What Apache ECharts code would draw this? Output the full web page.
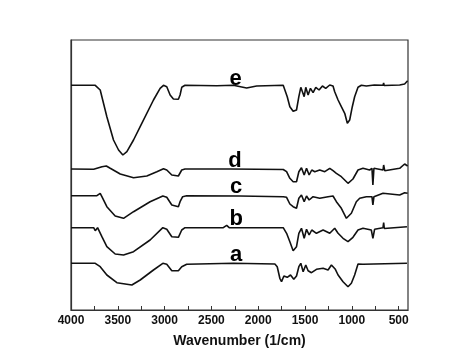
<!DOCTYPE html>
<html>
<head>
<meta charset="utf-8">
<script src="https://cdn.jsdelivr.net/npm/echarts@6/dist/echarts.min.js"></script>
<style>
  html, body { margin: 0; padding: 0; background: #fff; }
  #main { width: 474px; height: 363px; }
</style>
</head>
<body>
<div id="main"></div>
<script>
// FTIR spectra, [wavenumber, relative transmittance (offset per sample)]
var curveE = [
  [4000,224.7],[3741,224.7],[3688,220],[3617,193.3],[3546,170],[3492,160],[3446,155],[3403,158.3],
  [3332,170],[3261,183.3],[3119,210],[3048,221.7],[3012,224.7],[2977,223.3],[2941,215],[2906,211],
  [2853,210.7],[2835,215],[2817,222.7],[2782,224.7],[2444,224.3],[2266,224.7],[2124,222],[2017,224],
  [1733,224.7],[1690,213.3],[1662,203.3],[1627,198.7],[1591,200],[1566,213.3],[1545,222.7],[1527,224],
  [1509,213.3],[1492,222.7],[1467,215],[1442,221.7],[1414,217.3],[1385,222.7],[1350,220],[1314,224],
  [1279,221.7],[1236,225],[1201,224],[1183,218.3],[1147,210],[1112,203.3],[1076,196.7],[1048,186.7],
  [1023,190],[995,203.3],[970,213.3],[934,222.7],[898,224.7],[845,224],[760,225],[667,224.7],[660,227],
  [655,224.5],[489,225],[436,226],[404,229.3]
];
var curveD = [
  [4000,141],[3758,140.7],[3669,143.3],[3623,144],[3581,141.7],[3474,136],[3332,132.3],[3190,134],
  [3083,138.3],[3012,141.3],[2977,140],[2923,135],[2853,134],[2835,133.5],[2817,140],[2782,141],
  [2300,141],[1733,140.5],[1697,138.3],[1662,131.7],[1627,128.3],[1591,128.3],[1566,138.3],[1538,142.3],
  [1509,135],[1484,141.7],[1456,135],[1428,140],[1396,138.3],[1343,140],[1289,138.3],[1236,141.7],
  [1201,139.3],[1165,136.7],[1112,133.3],[1041,126.7],[988,131],[934,140],[881,141.7],[810,140],
  [785,141.7],[775,125],[764,141.7],[667,140],[660,145],[649,139.3],[489,141.7],[436,146],[404,144]
];
var curveC = [
  [4000,114.3],[3723,114.3],[3688,116.7],[3670,113.3],[3617,103.3],[3528,94],[3439,91.7],[3332,98.3],
  [3155,108.3],[3019,114],[2977,112.7],[2923,105],[2853,103.3],[2835,108.3],[2807,113.3],[2764,114.3],
  [2200,114],[1733,113.3],[1697,112.7],[1662,106],[1627,103.3],[1591,101.7],[1566,111.7],[1538,115],
  [1509,108.3],[1484,114],[1456,110],[1414,113.3],[1343,111.7],[1254,113.3],[1201,114],[1165,108.3],
  [1112,101.7],[1058,91.7],[1005,96.7],[952,108.3],[916,111.7],[845,113.3],[785,113.3],[775,105],
  [764,113.3],[667,116.7],[660,118.5],[652,115.5],[489,115],[436,117.3],[404,116.7]
];
var curveB = [
  [4000,82.3],[3758,82.3],[3741,79.3],[3716,82.3],[3670,73.3],[3617,63.3],[3528,56],[3439,55],
  [3332,58.3],[3155,70],[3019,82.3],[2977,80.7],[2923,73.3],[2853,72.7],[2817,80],[2782,82.3],
  [2373,82.3],[2337,84.7],[2310,82.3],[1733,82.3],[1697,76.7],[1662,68.3],[1627,59.3],[1591,63.3],
  [1566,76.7],[1538,81.7],[1509,71.7],[1484,80.7],[1456,75],[1428,80],[1378,76.7],[1307,80],
  [1236,76.7],[1183,81.7],[1147,76.7],[1094,71.7],[1041,68.3],[988,72.7],[934,80],[881,81.7],
  [792,80],[775,71.7],[757,80.7],[667,82.3],[660,87.3],[653,81.5],[411,83.3]
];
var curveA = [
  [4000,46.7],[3741,46.7],[3688,43.3],[3617,35],[3510,27.3],[3350,25],[3261,30],[3119,40],
  [3019,46.7],[2977,45.7],[2923,39.3],[2853,39.3],[2817,43.3],[2764,45.7],[2266,46.7],[1822,46],
  [1797,43.3],[1769,31.7],[1751,28.3],[1726,34],[1690,32.7],[1655,35],[1620,30.7],[1591,34],
  [1566,43.3],[1545,46.7],[1520,38.3],[1492,45],[1467,39.3],[1431,37.3],[1378,40.7],[1307,41.7],
  [1254,40],[1218,45],[1201,46.7],[1176,40.7],[1147,35],[1094,28.3],[1041,23.3],[1005,26.7],
  [970,35],[934,46],[881,45.7],[411,46.7]
];

var labelNames = ['e', 'd', 'c', 'b', 'a'];
var labelX = [2241, 2248, 2237, 2236, 2236];
var labelY = [231, 149, 123, 91, 55];

var majorTicks = [4000, 3500, 3000, 2500, 2000, 1500, 1000, 500];
var allTicks = [4000, 3750, 3500, 3250, 3000, 2750, 2500, 2250, 2000, 1750, 1500, 1250, 1000, 750, 500];

var myChart = echarts.init(document.getElementById('main'));

function spectrum(name, data) {
    return {
        name: name,
        type: 'line',
        data: data,
        showSymbol: false,
        silent: true,
        lineStyle: { color: '#111', width: 1.6 }
    };
}

var labelData = [];
for (var i = 0; i < labelNames.length; i++) {
    labelData.push([labelX[i], labelY[i], labelNames[i]]);
}

var option = {
    animation: false,
    backgroundColor: '#fff',
    grid: {
        left: 71, right: 66, top: 40, bottom: 53,
        show: true,
        borderColor: '#333',
        borderWidth: 1.2
    },
    xAxis: {
        type: 'value',
        inverse: true,
        min: 400,
        max: 4000,
        name: 'Wavenumber (1/cm)',
        nameLocation: 'middle',
        nameGap: 24,
        nameTextStyle: { fontFamily: 'Liberation Sans', fontWeight: 'bold', fontSize: 14, color: '#111' },
        axisLine: { lineStyle: { color: '#333', width: 1.2 } },
        axisTick: { inside: true, length: 4, customValues: allTicks, lineStyle: { color: '#333' } },
        axisLabel: {
            customValues: majorTicks,
            formatter: function (v) { return String(v); },
            fontFamily: 'Liberation Sans', fontWeight: 'bold', fontSize: 12,
            color: '#111', margin: 5
        },
        splitLine: { show: false }
    },
    yAxis: {
        type: 'value',
        min: 0,
        max: 270,
        axisLine: { show: true, lineStyle: { color: '#333', width: 1.2 } },
        axisTick: { show: false },
        axisLabel: { show: false },
        splitLine: { show: false }
    },
    series: [
        spectrum('a', curveA),
        spectrum('b', curveB),
        spectrum('c', curveC),
        spectrum('d', curveD),
        spectrum('e', curveE),
        {
            name: 'labels',
            type: 'scatter',
            data: labelData,
            symbolSize: 0,
            silent: true,
            itemStyle: { color: '#111', opacity: 1 },
            label: {
                show: true,
                position: 'inside',
                formatter: function (p) { return p.value[2]; },
                fontFamily: 'Liberation Sans',
                fontWeight: 'bold',
                fontSize: 22,
                color: '#000',
                opacity: 1,
                textBorderWidth: 0
            }
        }
    ]
};
myChart.setOption(option);
</script>
</body>
</html>
